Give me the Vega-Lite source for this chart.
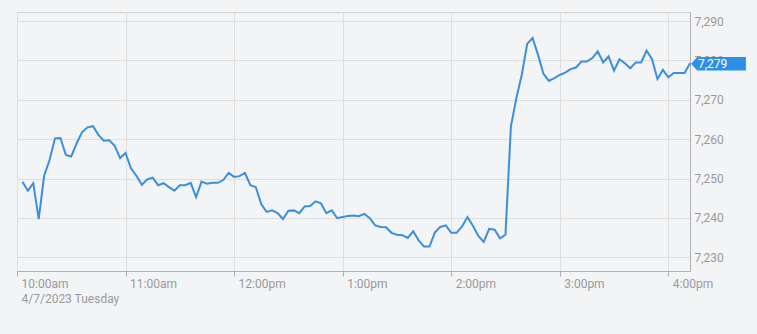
{
  "$schema": "https://vega.github.io/schema/vega-lite/v6.json",
  "width": 673,
  "height": 259,
  "autosize": {"type": "none"},
  "padding": {"left": 17, "top": 12, "right": 67, "bottom": 63},
  "background": "#f3f4f6",
  "config": {
    "view": {"stroke": "#cfcfcf", "fill": "#f3f4f6"},
    "font": "Roboto",
    "axis": {"labelFont": "Roboto", "labelColor": "#9a9a9a", "labelFontSize": 12, "gridColor": "#dedede", "domainColor": "#b0b0b0", "tickColor": "#b0b0b0", "title": null}
  },
  "datasets": {
    "series": [
    {"t":3,"v":7249.2},{"t":6,"v":7246.9},{"t":9,"v":7248.8},{"t":12,"v":7239.7},{"t":15,"v":7250.7},{"t":18,"v":7254.7},{"t":21,"v":7260.2},{"t":24,"v":7260.3},{"t":27,"v":7256.0},{"t":30,"v":7255.6},
    {"t":33,"v":7259.0},{"t":36,"v":7261.8},{"t":39,"v":7263.0},{"t":42,"v":7263.3},{"t":45,"v":7261.1},{"t":48,"v":7259.6},{"t":51,"v":7259.7},{"t":54,"v":7258.3},{"t":57,"v":7255.2},{"t":60,"v":7256.5},
    {"t":63,"v":7252.6},{"t":66,"v":7250.7},{"t":69,"v":7248.4},{"t":72,"v":7249.8},{"t":75,"v":7250.2},{"t":78,"v":7248.3},{"t":81,"v":7248.8},{"t":84,"v":7247.8},{"t":87,"v":7246.9},{"t":90,"v":7248.3},
    {"t":93,"v":7248.3},{"t":96,"v":7248.9},{"t":99,"v":7245.3},{"t":102,"v":7249.2},{"t":105,"v":7248.7},{"t":108,"v":7248.9},{"t":111,"v":7248.9},{"t":114,"v":7249.6},{"t":117,"v":7251.4},{"t":120,"v":7250.4},
    {"t":123,"v":7250.6},{"t":126,"v":7251.4},{"t":129,"v":7248.3},{"t":132,"v":7247.8},{"t":135,"v":7243.5},{"t":138,"v":7241.5},{"t":141,"v":7241.9},{"t":144,"v":7241.2},{"t":147,"v":7239.7},{"t":150,"v":7241.8},
    {"t":153,"v":7241.9},{"t":156,"v":7241.2},{"t":159,"v":7242.9},{"t":162,"v":7243.0},{"t":165,"v":7244.2},{"t":168,"v":7243.7},{"t":171,"v":7241.2},{"t":174,"v":7241.9},{"t":177,"v":7239.9},{"t":180,"v":7240.2},
    {"t":183,"v":7240.5},{"t":186,"v":7240.6},{"t":189,"v":7240.4},{"t":192,"v":7241.0},{"t":195,"v":7239.9},{"t":198,"v":7238.1},{"t":201,"v":7237.7},{"t":204,"v":7237.6},{"t":207,"v":7236.2},{"t":210,"v":7235.7},
    {"t":213,"v":7235.6},{"t":216,"v":7234.9},{"t":219,"v":7236.6},{"t":222,"v":7234.3},{"t":225,"v":7232.7},{"t":228,"v":7232.7},{"t":231,"v":7236.3},{"t":234,"v":7237.7},{"t":237,"v":7238.1},{"t":240,"v":7236.2},
    {"t":243,"v":7236.2},{"t":246,"v":7237.8},{"t":249,"v":7240.2},{"t":252,"v":7238.0},{"t":255,"v":7235.4},{"t":258,"v":7233.9},{"t":261,"v":7237.2},{"t":264,"v":7237.0},{"t":267,"v":7234.8},{"t":270,"v":7235.7},
    {"t":273,"v":7263.2},{"t":276,"v":7270.4},{"t":279,"v":7276.3},{"t":282,"v":7284.2},{"t":285,"v":7285.7},{"t":288,"v":7281.4},{"t":291,"v":7276.6},{"t":294,"v":7274.8},{"t":297,"v":7275.5},{"t":300,"v":7276.3},
    {"t":303,"v":7276.9},{"t":306,"v":7277.8},{"t":309,"v":7278.2},{"t":312,"v":7279.7},{"t":315,"v":7279.7},{"t":318,"v":7280.6},{"t":321,"v":7282.3},{"t":324,"v":7279.5},{"t":327,"v":7281.0},{"t":330,"v":7277.4},
    {"t":333,"v":7280.3},{"t":336,"v":7279.3},{"t":339,"v":7278.0},{"t":342,"v":7279.5},{"t":345,"v":7279.5},{"t":348,"v":7282.5},{"t":351,"v":7280.3},{"t":354,"v":7275.3},{"t":357,"v":7277.6},{"t":360,"v":7275.7},
    {"t":363,"v":7276.8},{"t":366,"v":7276.8},{"t":369,"v":7276.8},{"t":372,"v":7279.3}
    ],
    "last": [{"label": "7,279", "v": 7279.15}]
  },
  "layer": [
    {
      "data": {"name": "series"},
      "mark": {"type": "line", "color": "#3a90dc", "strokeWidth": 2},
      "encoding": {
        "x": {"field": "t", "type": "quantitative",
          "scale": {"domain": [0, 372], "nice": false, "zero": false},
          "axis": {"values": [0, 60, 120, 180, 240, 300, 360], "grid": true, "tickSize": 5, "labelAlign": "left", "labelOffset": 4, "labelPadding": 2, "labelBaseline": "top", "labelLineHeight": 15, "labelFlush": false, "labelOverlap": false,
            "labelExpr": "datum.value == 0 ? ['10:00am', '4/7/2023 Tuesday'] : ['', '11:00am', '12:00pm', '1:00pm', '2:00pm', '3:00pm', '4:00pm'][datum.value / 60]"}},
        "y": {"field": "v", "type": "quantitative",
          "scale": {"domain": [7226.5, 7292.3], "nice": false, "zero": false},
          "axis": {"orient": "right", "values": [7230, 7240, 7250, 7260, 7270, 7280, 7290], "format": ",.0f", "ticks": false, "labelPadding": 4, "labelAlign": "left", "labelFlush": false, "labelOverlap": false}}
      }
    },
    {
      "data": {"name": "last"},
      "mark": {"type": "rect", "color": "#2f8fe6"},
      "encoding": {
        "x": {"datum": 375.9, "type": "quantitative"},
        "x2": {"datum": 402.9},
        "y": {"datum": 7277.45, "type": "quantitative"},
        "y2": {"datum": 7280.85}
      }
    },
    {
      "data": {"name": "last"},
      "mark": {"type": "point", "filled": true, "color": "#2f8fe6", "opacity": 1, "shape": "M -0.45 0 L 0.45 -1 L 0.45 1 Z", "size": 180},
      "encoding": {
        "x": {"datum": 374.3, "type": "quantitative"},
        "y": {"field": "v", "type": "quantitative"}
      }
    },
    {
      "data": {"name": "last"},
      "mark": {"type": "text", "color": "#ffffff", "align": "left", "baseline": "middle", "fontSize": 12, "font": "Roboto"},
      "encoding": {
        "x": {"datum": 376.4, "type": "quantitative"},
        "y": {"field": "v", "type": "quantitative"},
        "text": {"field": "label"}
      }
    }
  ]
}
